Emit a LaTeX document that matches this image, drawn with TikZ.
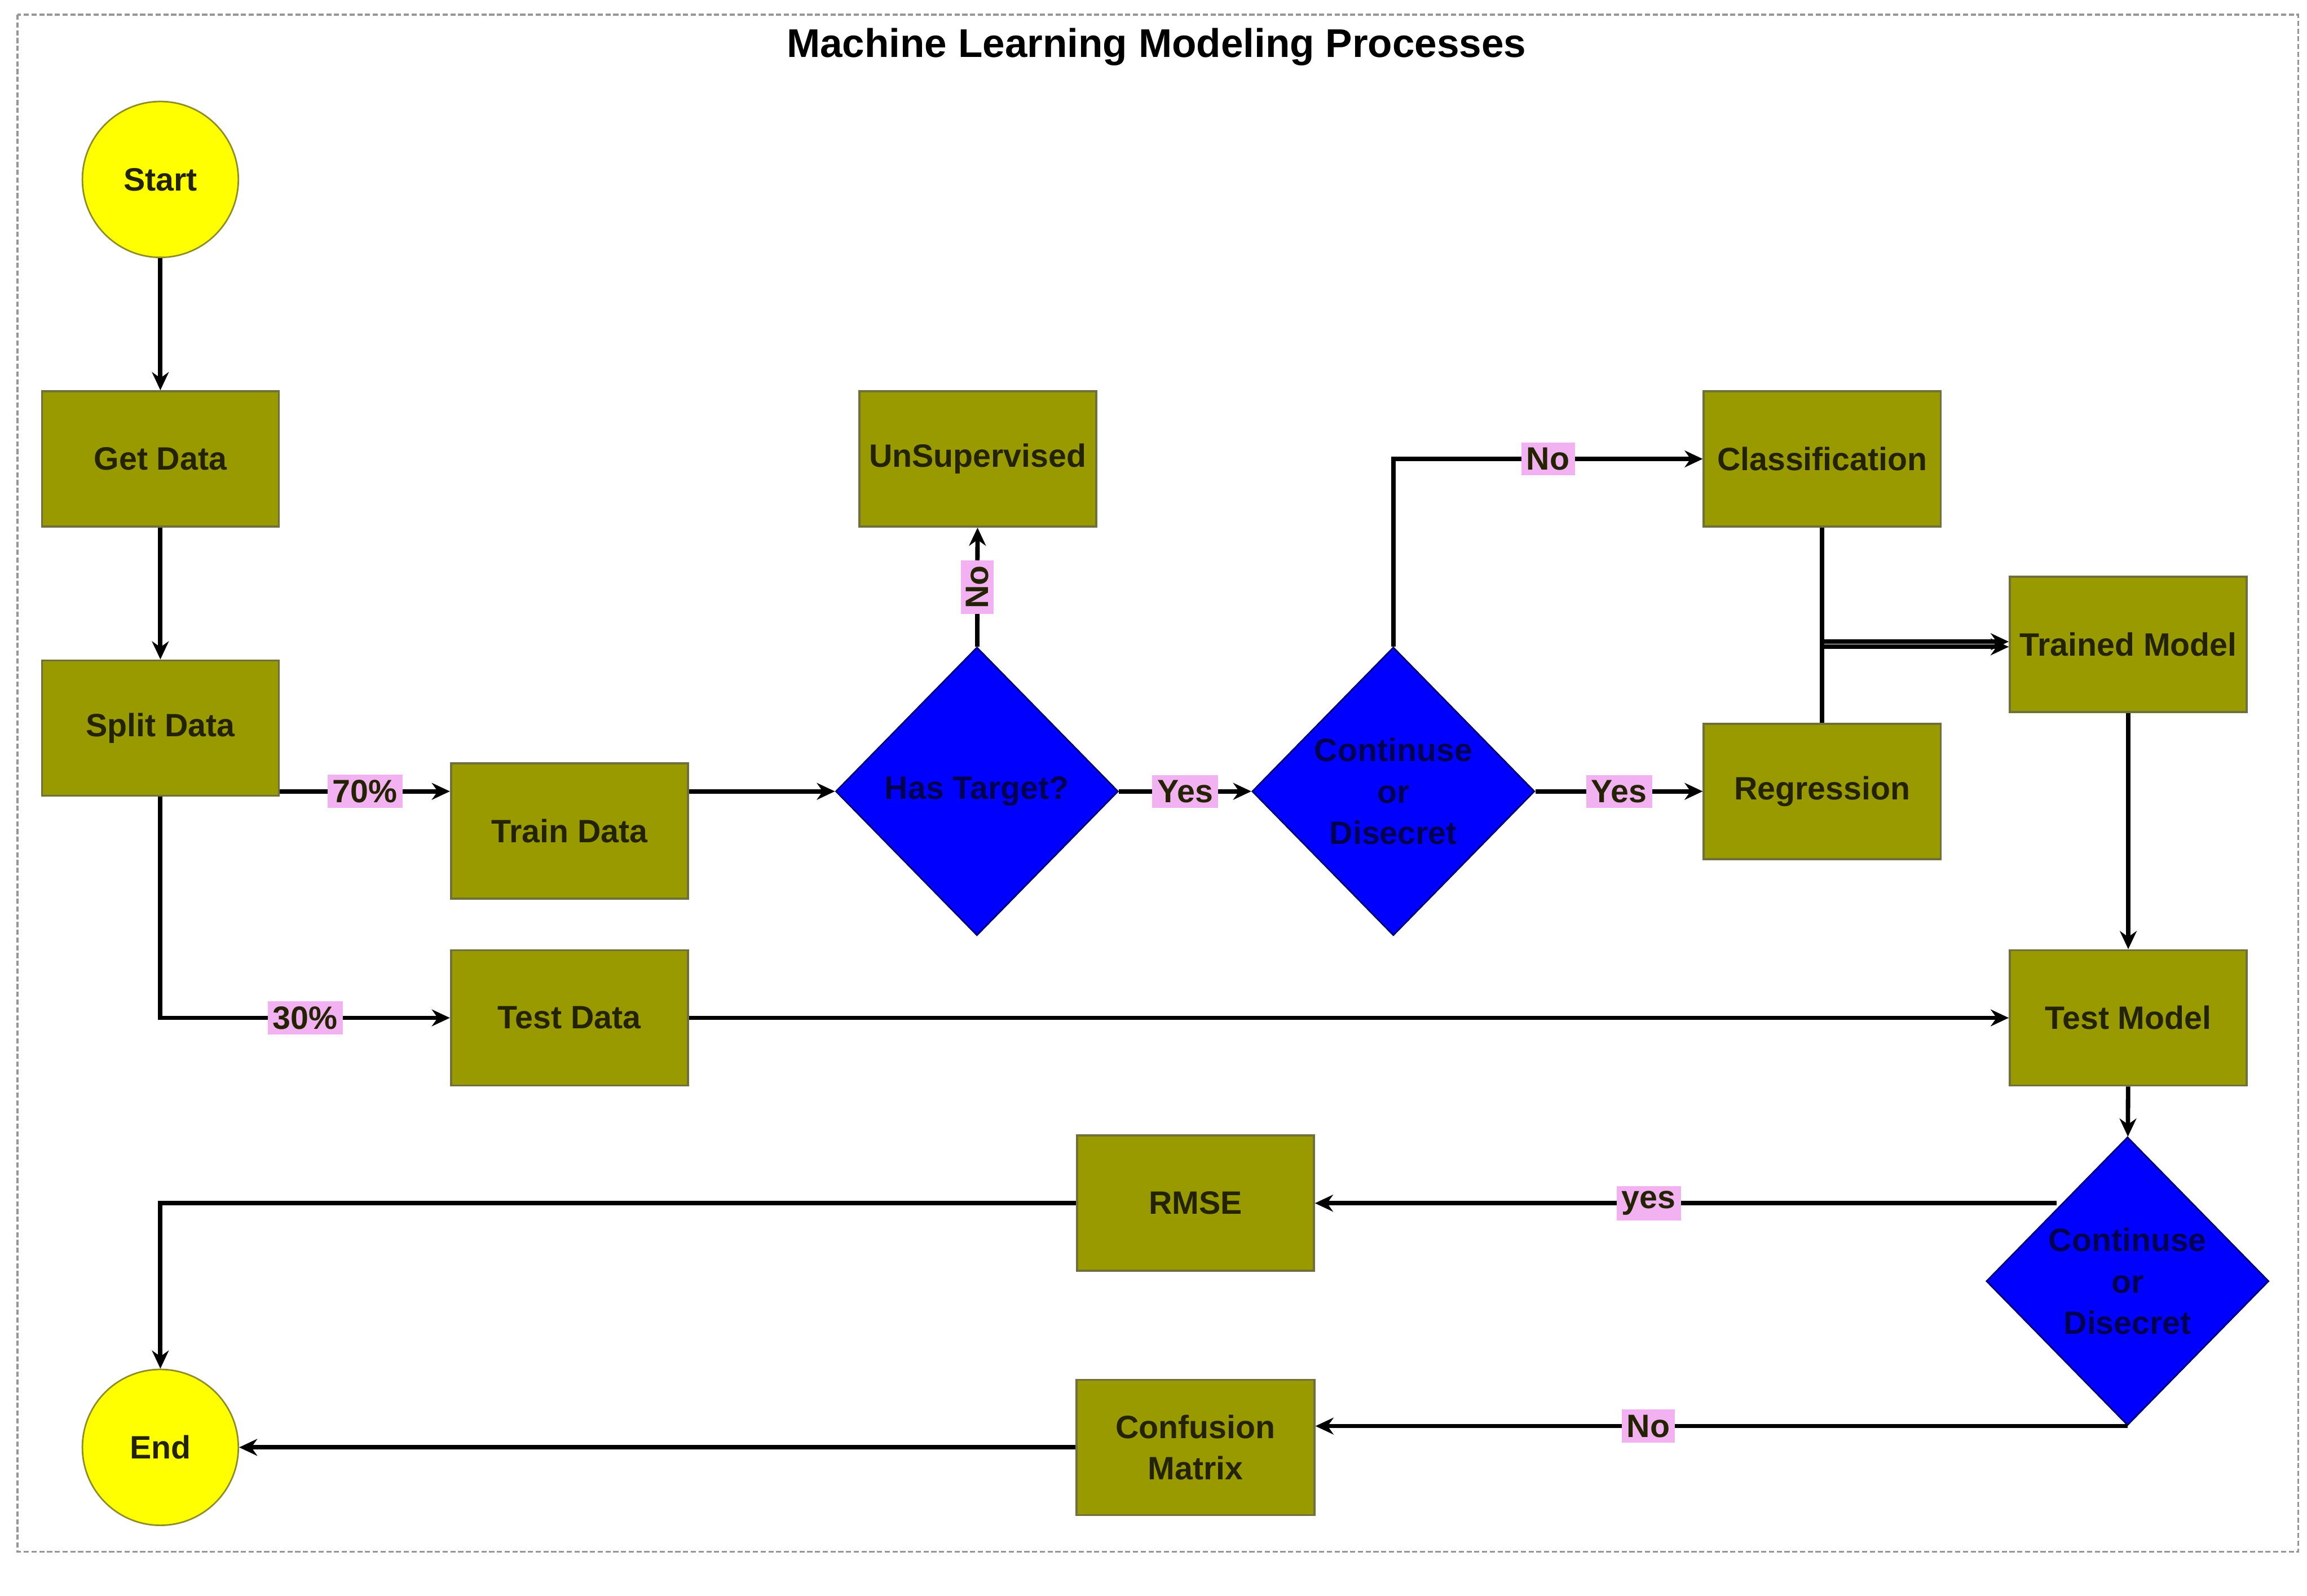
\documentclass[tikz,border=0pt]{standalone}
\usepackage{fontspec}
\setmainfont{Liberation Sans}
\usetikzlibrary{shapes.geometric,arrows.meta}
\definecolor{boxfill}{RGB}{153,153,0}
\definecolor{boxline}{RGB}{112,112,60}
\definecolor{boxtext}{RGB}{35,35,0}
\definecolor{diafill}{RGB}{0,0,255}
\definecolor{dialine}{RGB}{0,0,120}
\definecolor{diatext}{RGB}{0,0,80}
\definecolor{termfill}{RGB}{255,255,0}
\definecolor{termline}{RGB}{140,140,40}
\definecolor{lblfill}{RGB}{242,178,242}
\definecolor{framecol}{RGB}{150,150,150}
\begin{document}
\begin{tikzpicture}[x=0.2mm,y=-0.2mm,
	txt/.style={font=\bfseries\fontsize{12.5}{16}\selectfont},
	process/.style={txt, rectangle, draw=boxline, fill=boxfill, line width=0.8pt, minimum width=32.2mm, minimum height=18.4mm, text=boxtext, align=center},
	decision/.style={txt, diamond, draw=dialine, fill=diafill, line width=0.6pt, minimum width=38.4mm, minimum height=39.2mm, inner sep=0pt, text=diatext, align=center},
	terminal/.style={txt, circle, draw=termline, fill=termfill, line width=0.6pt, minimum size=21.2mm, text=boxtext},
	arr/.style={-{Stealth[length=7pt,width=6.5pt]}, line width=1.7pt},
	lbl/.style={txt, fill=lblfill, inner sep=2pt, text=boxtext}]
	\useasboundingbox (0,0) rectangle (1568,1085);
	\draw[framecol, line width=0.8pt, dash pattern=on 2pt off 1pt] (12,10) rectangle (1562,1055);
	\node[font=\bfseries\fontsize{15.5}{18}\selectfont] (title) at (786,32) {Machine Learning Modeling Processes};
	\node[terminal] (start) at (109,122) {Start};
	\node[process] (get) at (109,312) {Get Data};
	\node[process] (split) at (109,495) {Split Data};
	\node[process] (train) at (387,565) {Train Data};
	\node[process] (test) at (387,692) {Test Data};
	\node[decision] (has) at (664,538) {Has Target?};
	\node[process] (unsup) at (664.5,312) {UnSupervised};
	\node[decision] (cont) at (947,538) {Continuse\\or\\Disecret};
	\node[process] (cls) at (1238.5,312) {Classification};
	\node[process] (reg) at (1238.5,538) {Regression};
	\node[process] (tm) at (1446.5,438) {Trained Model};
	\node[process] (tmod) at (1446.5,692) {Test Model};
	\node[decision] (cd) at (1446,871) {Continuse\\or\\Disecret};
	\node[process] (rmse) at (812.5,818) {RMSE};
	\node[process, text width=30mm] (conf) at (812.5,984) {Confusion\\Matrix};
	\node[terminal] (end) at (109,984) {End};
	\draw[arr] (start) -- (get);
	\draw[arr] (get) -- (split);
	\draw[arr] (split.east |- has.west) -- (train.west |- has.west) node[lbl, midway] {70\%};
	\draw[arr] (split) |- (test) node[lbl, pos=0.75] {30\%};
	\draw[arr] (train.east |- has.west) -- (has.west);
	\draw[arr] (has) -- (unsup) node[lbl, midway, rotate=90] {No};
	\draw[arr] (has) -- (cont) node[lbl, midway] {Yes};
	\draw[arr] (cont) |- (cls) node[lbl, pos=0.75] {No};
	\draw[arr] (cont) -- (reg) node[lbl, midway] {Yes};
	\draw[line width=1.7pt] (cls) -- (reg);
	\draw[arr] (cls.south) |- ([yshift=1pt]tm.west);
	\draw[arr] (reg.north) |- ([yshift=-1pt]tm.west);
	\draw[arr] (tm) -- (tmod);
	\draw[arr] (test) -- (tmod);
	\draw[arr] (tmod) -- (cd);
	\draw[arr] (rmse.east -| cd.north west) -- (rmse.east) node[lbl, pos=0.55] {yes};
	\draw[arr] (cd.south) -- (cd.south -| conf.east) node[lbl, pos=0.59] {No};
	\draw[arr] (rmse) -| (end);
	\draw[arr] (conf) -- (end);
\end{tikzpicture}
\end{document}
